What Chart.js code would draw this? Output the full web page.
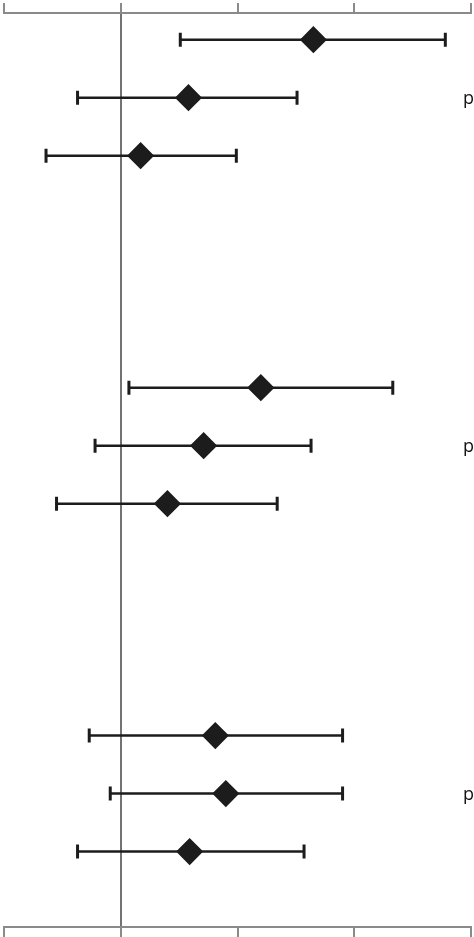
<!DOCTYPE html>
<html>
<head>
<meta charset="utf-8">
<script src="https://cdn.jsdelivr.net/npm/chart.js@4"></script>
<style>
  html, body { margin: 0; padding: 0; background: #fff; }
  #wrap { width: 474px; height: 937px; }
</style>
</head>
<body>
<div id="wrap"><canvas id="forest"></canvas></div>
<script>
// rows (top to bottom), blank rows between the three groups
const rows = [0, 1, 2, 6, 7, 8, 12, 13, 14];
const estimate = [1.65, 0.58, 0.17, 1.20, 0.71, 0.40, 0.81, 0.90, 0.59];
const lower = [0.51, -0.37, -0.64, 0.07, -0.22, -0.55, -0.27, -0.09, -0.37];
const upper = [2.78, 1.51, 0.99, 2.33, 1.63, 1.34, 1.90, 1.90, 1.57];
const xTicks = [-1, 0, 1, 2, 3];
const pLabels = [{ row: 1, text: 'p' }, { row: 7, text: 'p' }, { row: 13, text: 'p' }];

const ink = '#1c1c1c';
const axisGrey = '#8a8a8a';

const points = rows.map((r, i) => ({ x: estimate[i], y: r }));

const errorBars = {
  id: 'errorBars',
  beforeDatasetsDraw(chart) {
    const { ctx, scales: { x, y } } = chart;
    ctx.save();
    ctx.strokeStyle = ink;
    rows.forEach((r, i) => {
      const py = y.getPixelForValue(r);
      const x0 = x.getPixelForValue(lower[i]);
      const x1 = x.getPixelForValue(upper[i]);
      ctx.lineWidth = 2.5;
      ctx.beginPath();
      ctx.moveTo(x0, py);
      ctx.lineTo(x1, py);
      ctx.stroke();
      ctx.lineWidth = 3;
      ctx.beginPath();
      ctx.moveTo(x0, py - 7);
      ctx.lineTo(x0, py + 7);
      ctx.moveTo(x1, py - 7);
      ctx.lineTo(x1, py + 7);
      ctx.stroke();
    });
    ctx.restore();
  },
  afterDraw(chart) {
    const { ctx, scales: { y } } = chart;
    ctx.save();
    ctx.fillStyle = '#111';
    ctx.font = '18px "Open Sans", sans-serif';
    ctx.textBaseline = 'middle';
    pLabels.forEach(l => {
      ctx.fillText(l.text, 463, y.getPixelForValue(l.row) + 1);
    });
    ctx.restore();
  }
};

const axisOpts = (pos, onArea) => ({
  type: 'linear',
  position: pos,
  min: -1,
  max: 3,
  afterBuildTicks: s => { s.ticks = xTicks.map(v => ({ value: v })); },
  ticks: { display: false },
  border: { display: true, color: axisGrey, width: 2 },
  grid: {
    display: true,
    drawOnChartArea: onArea,
    drawTicks: true,
    tickLength: 10,
    tickWidth: 2,
    tickColor: axisGrey,
    lineWidth: 2,
    color: ctx => (ctx.tick && ctx.tick.value === 0) ? '#737373' : 'rgba(0,0,0,0)'
  }
});

new Chart(document.getElementById('forest'), {
  type: 'scatter',
  data: {
    datasets: [{
      data: points,
      xAxisID: 'x',
      yAxisID: 'y',
      pointStyle: 'rectRot',
      pointRadius: 12.5,
      pointBorderWidth: 1.5,
      backgroundColor: ink,
      borderColor: ink
    }]
  },
  plugins: [errorBars],
  options: {
    responsive: true,
    maintainAspectRatio: false,
    animation: false,
    layout: { autoPadding: false, padding: { top: 3, bottom: 0, left: 4, right: 3 } },
    scales: {
      x: axisOpts('top', true),
      x2: axisOpts('bottom', false),
      y: {
        type: 'linear',
        display: false,
        reverse: true,
        min: -0.46,
        max: 15.3
      }
    },
    plugins: {
      legend: { display: false },
      tooltip: { enabled: false }
    }
  }
});
</script>
</body>
</html>
